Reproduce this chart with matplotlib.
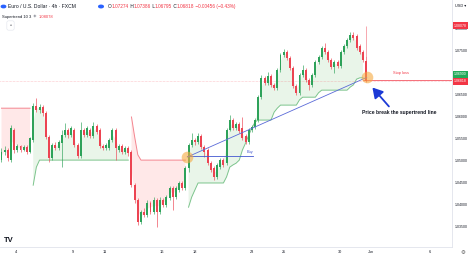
import matplotlib
matplotlib.use("Agg")
import matplotlib.pyplot as plt
import numpy as np
from matplotlib.transforms import blended_transform_factory

plt.rcParams["font.family"] = ["Liberation Sans", "DejaVu Sans"]

# EUR/USD 4h candles (early May .. 31 May)
opens = [
    1.0502, 1.0520, 1.0525, 1.0502, 1.0570, 1.0525, 1.0534, 1.0525, 1.0532, 1.0520,
    1.0548, 1.0625, 1.0616, 1.0623, 1.0609, 1.0555, 1.0507, 1.0536, 1.0530, 1.0541,
    1.0559, 1.0570, 1.0559, 1.0570, 1.0536, 1.0511, 1.0570, 1.0559, 1.0570, 1.0557,
    1.0580, 1.0570, 1.0534, 1.0530, 1.0530, 1.0548, 1.0570, 1.0525, 1.0534, 1.0520,
    1.0530, 1.0520, 1.0445, 1.0411, 1.0361, 1.0384, 1.0377, 1.0405, 1.0384, 1.0411,
    1.0384, 1.0411, 1.0400, 1.0416, 1.0439, 1.0418, 1.0434, 1.0450, 1.0439, 1.0484,
    1.0536, 1.0548, 1.0543, 1.0557, 1.0532, 1.0525, 1.0495, 1.0484, 1.0464, 1.0486,
    1.0502, 1.0495, 1.0570, 1.0593, 1.0575, 1.0584, 1.0575, 1.0557, 1.0543, 1.0570,
    1.0577, 1.0593, 1.0645, 1.0689, 1.0677, 1.0693, 1.0673, 1.0666, 1.0707, 1.0741,
    1.0748, 1.0734, 1.0711, 1.0670, 1.0655, 1.0695, 1.0707, 1.0684, 1.0673, 1.0695,
    1.0725, 1.0736, 1.0757, 1.0748, 1.0730, 1.0714, 1.0725, 1.0716, 1.0748, 1.0761,
    1.0775, 1.0786, 1.0784, 1.0761, 1.0748, 1.07274,
]
highs = [
    1.0530, 1.0534, 1.0530, 1.0582, 1.0575, 1.0539, 1.0536, 1.0536, 1.0536, 1.0555,
    1.0632, 1.0643, 1.0630, 1.0627, 1.0614, 1.0559, 1.0541, 1.0543, 1.0548, 1.0570,
    1.0586, 1.0575, 1.0580, 1.0575, 1.0541, 1.0589, 1.0575, 1.0580, 1.0575, 1.0589,
    1.0584, 1.0575, 1.0539, 1.0541, 1.0552, 1.0575, 1.0575, 1.0539, 1.0539, 1.0534,
    1.0534, 1.0525, 1.0450, 1.0416, 1.0389, 1.0393, 1.0411, 1.0409, 1.0418, 1.0416,
    1.0418, 1.0416, 1.0423, 1.0443, 1.0443, 1.0443, 1.0455, 1.0455, 1.0489, 1.0541,
    1.0564, 1.0552, 1.0564, 1.0561, 1.0536, 1.0530, 1.0500, 1.0489, 1.0495, 1.0507,
    1.0507, 1.0575, 1.0605, 1.0598, 1.0589, 1.0589, 1.0600, 1.0561, 1.0575, 1.0582,
    1.0598, 1.0650, 1.0695, 1.0693, 1.0702, 1.0698, 1.0677, 1.0711, 1.0745, 1.0755,
    1.0752, 1.0739, 1.0716, 1.0675, 1.0700, 1.0718, 1.0711, 1.0689, 1.0700, 1.0730,
    1.0741, 1.0761, 1.0768, 1.0752, 1.0734, 1.0730, 1.0730, 1.0752, 1.0766, 1.0780,
    1.0793, 1.0793, 1.0789, 1.0766, 1.0752, 1.07386,
]
lows = [
    1.0498, 1.0514, 1.0500, 1.0498, 1.0518, 1.0520, 1.0520, 1.0523, 1.0516, 1.0518,
    1.0543, 1.0611, 1.0609, 1.0602, 1.0550, 1.0498, 1.0502, 1.0525, 1.0525, 1.0486,
    1.0555, 1.0552, 1.0555, 1.0532, 1.0507, 1.0507, 1.0555, 1.0555, 1.0552, 1.0552,
    1.0561, 1.0530, 1.0525, 1.0525, 1.0525, 1.0543, 1.0502, 1.0520, 1.0516, 1.0516,
    1.0511, 1.0441, 1.0405, 1.0355, 1.0357, 1.0373, 1.0373, 1.0380, 1.0380, 1.0350,
    1.0380, 1.0395, 1.0395, 1.0411, 1.0389, 1.0414, 1.0430, 1.0434, 1.0434, 1.0475,
    1.0532, 1.0536, 1.0539, 1.0527, 1.0509, 1.0491, 1.0475, 1.0457, 1.0459, 1.0482,
    1.0486, 1.0491, 1.0568, 1.0570, 1.0570, 1.0564, 1.0548, 1.0539, 1.0539, 1.0566,
    1.0573, 1.0589, 1.0641, 1.0673, 1.0673, 1.0668, 1.0661, 1.0661, 1.0702, 1.0736,
    1.0730, 1.0707, 1.0666, 1.0650, 1.0650, 1.0691, 1.0680, 1.0661, 1.0668, 1.0691,
    1.0720, 1.0732, 1.0743, 1.0725, 1.0709, 1.0700, 1.0711, 1.0711, 1.0743, 1.0757,
    1.0770, 1.0775, 1.0752, 1.0743, 1.0725, 1.06795,
]
closes = [
    1.0520, 1.0525, 1.0507, 1.0575, 1.0525, 1.0534, 1.0525, 1.0532, 1.0520, 1.0552,
    1.0625, 1.0616, 1.0623, 1.0609, 1.0555, 1.0507, 1.0536, 1.0530, 1.0543, 1.0559,
    1.0570, 1.0559, 1.0575, 1.0536, 1.0511, 1.0570, 1.0559, 1.0575, 1.0557, 1.0580,
    1.0566, 1.0534, 1.0530, 1.0536, 1.0548, 1.0570, 1.0530, 1.0534, 1.0520, 1.0530,
    1.0518, 1.0445, 1.0411, 1.0361, 1.0384, 1.0377, 1.0405, 1.0384, 1.0411, 1.0384,
    1.0411, 1.0400, 1.0418, 1.0439, 1.0418, 1.0439, 1.0450, 1.0439, 1.0484, 1.0536,
    1.0548, 1.0543, 1.0557, 1.0532, 1.0520, 1.0495, 1.0480, 1.0464, 1.0491, 1.0502,
    1.0491, 1.0570, 1.0593, 1.0575, 1.0584, 1.0568, 1.0552, 1.0543, 1.0570, 1.0577,
    1.0593, 1.0645, 1.0689, 1.0677, 1.0693, 1.0673, 1.0666, 1.0707, 1.0741, 1.0748,
    1.0734, 1.0711, 1.0670, 1.0655, 1.0695, 1.0707, 1.0684, 1.0673, 1.0695, 1.0725,
    1.0736, 1.0757, 1.0748, 1.0730, 1.0714, 1.0725, 1.0716, 1.0748, 1.0761, 1.0775,
    1.0786, 1.0780, 1.0757, 1.0748, 1.0730, 1.06818,
]
# Supertrend (10, 3) line as drawn
supertrend = [
    1.0620, 1.0620, 1.0620, 1.0620, 1.0620, 1.0620, 1.0620, 1.0620, 1.0620, 1.0620,
    1.0445, 1.0486, 1.0502, 1.0502, 1.0502, 1.0502, 1.0502, 1.0502, 1.0502, 1.0502,
    1.0502, 1.0502, 1.0502, 1.0502, 1.0502, 1.0502, 1.0502, 1.0502, 1.0502, 1.0502,
    1.0502, 1.0502, 1.0502, 1.0502, 1.0502, 1.0502, 1.0502, 1.0502, 1.0502, 1.0502,
    1.0502, 1.0600, 1.0555, 1.0514, 1.0502, 1.0502, 1.0502, 1.0502, 1.0502, 1.0502,
    1.0502, 1.0502, 1.0502, 1.0502, 1.0502, 1.0502, 1.0502, 1.0502, 1.0502, 1.0395,
    1.0418, 1.0434, 1.0450, 1.0450, 1.0450, 1.0450, 1.0450, 1.0450, 1.0450, 1.0450,
    1.0450, 1.0464, 1.0486, 1.0491, 1.0495, 1.0502, 1.0525, 1.0541, 1.0559, 1.0575,
    1.0589, 1.0593, 1.0593, 1.0593, 1.0593, 1.0593, 1.0611, 1.0620, 1.0627, 1.0627,
    1.0627, 1.0627, 1.0627, 1.0627, 1.0639, 1.0645, 1.0645, 1.0645, 1.0645, 1.0645,
    1.0655, 1.0661, 1.0661, 1.0661, 1.0661, 1.0661, 1.0661, 1.0661, 1.0661, 1.0661,
    1.0668, 1.0673, 1.0686, 1.0689, 1.0689, 1.08078,
]

date_ticks = [4.6, 22.6, 32.6, 50.6, 61.0, 79.0, 89.1, 106.8, 116.6, 135.2]
date_labels = ["4", "9", "11", "16", "18", "23", "25", "30", "Jun", "6"]
price_ticks = [1.035, 1.040, 1.045, 1.050, 1.055, 1.060, 1.065, 1.070, 1.075, 1.080]

buy_point = (58.6, 1.0509)
break_point = (115.2, 1.0690)
buy_line_end = 79.3
stop_loss = 1.0685
last_close = 1.06818
st_last = 1.08078

UP = "#2ea25a"
DOWN = "#ec4452"
ST_UP = "#7cc48c"
ST_DOWN = "#f4858f"
TEXT = "#131722"
GRID = "#e0e3eb"
W, H = 474, 258

o = np.array(opens)
h = np.array(highs)
l = np.array(lows)
c = np.array(closes)
st = np.array(supertrend)
x = np.arange(len(c))
trend = np.where(c > st, 1, -1)
mid = (o + c) / 2

fig = plt.figure(figsize=(W / 100, H / 100), dpi=100)
ax = fig.add_axes([0, 11 / H, 452 / W, 247 / H])
ax.set_xlim(-0.47, 142.1)
ax.set_ylim(1.03045, 1.08659)

# supertrend fills and lines
up_mask = trend == 1
dn_mask = trend == -1
dn_mask[-1] = False
ax.fill_between(x, st, mid, where=up_mask, color="#4caf50", alpha=0.12, lw=0, zorder=1)
ax.fill_between(x, st, mid, where=dn_mask, color="#ff5252", alpha=0.13, lw=0, zorder=1)
ax.plot(x, np.where(up_mask, st, np.nan), color=ST_UP, lw=0.7, zorder=2)
ax.plot(x, np.where(dn_mask, st, np.nan), color=ST_DOWN, lw=0.7, zorder=2)
ax.vlines(x[-1], h[-1], st_last, color=ST_DOWN, lw=0.5, zorder=2)

# candles
colors = np.where(c >= o, UP, DOWN)
ax.vlines(x, l, h, color=colors, lw=0.45, zorder=3)
body = np.maximum(np.abs(c - o), 0.00008)
ax.bar(x, body, bottom=np.minimum(o, c), width=0.62, color=colors, lw=0, zorder=4)

# price line and stop loss
ax.axhline(last_close, color="#f7525f", lw=0.4, ls=(0, (1, 1.5)), alpha=0.6, zorder=2)
ax.plot([114, 142.1], [stop_loss, stop_loss], color="#f23645", lw=0.5, zorder=5)
ax.text(126, 1.0700, "Stop loss", color="#f23645", fontsize=2.8, ha="center", va="center", zorder=6)

# buy / break annotations
ax.plot([buy_point[0], buy_line_end], [buy_point[1] + 0.0002, buy_point[1] + 0.0002],
        color="#4256d0", lw=0.6, zorder=5)
ax.text(buy_line_end - 1, buy_point[1] + 0.0011, "Buy", color="#4256d0", fontsize=2.8,
        ha="center", va="center", zorder=6)
ax.plot([buy_point[0], break_point[0]], [buy_point[1], break_point[1]],
        color="#5a6ad8", lw=0.6, zorder=5)
ax.scatter([buy_point[0], break_point[0]], [buy_point[1], break_point[1]], s=70,
           color="#f5a940", alpha=0.6, lw=0, zorder=6)
ax.annotate("", xy=(117.0, 1.0667), xytext=(122.2, 1.0624),
            arrowprops=dict(arrowstyle="-|>,head_width=0.35,head_length=0.6",
                            color="#1c3ad6", lw=1.3, shrinkA=0, shrinkB=0), zorder=7)
ax.text(125.5, 1.0611, "Price break the supertrend line", color=TEXT, fontsize=3.6,
        weight="bold", ha="center", va="center", zorder=7)

# axes styling
for side in ("top", "left"):
    ax.spines[side].set_visible(False)
for side in ("right", "bottom"):
    ax.spines[side].set_color(GRID)
    ax.spines[side].set_linewidth(0.6)
ax.set_xticks(date_ticks)
ax.set_xticklabels(date_labels)
ax.yaxis.tick_right()
ax.set_yticks(price_ticks)
ax.set_yticklabels([f"{p:.5f}" for p in price_ticks])
ax.tick_params(axis="x", length=0, pad=2.5, labelsize=2.8, colors=TEXT)
ax.tick_params(axis="y", length=0, pad=2.2, labelsize=2.5, colors=TEXT)

# price badges on the scale
tr = blended_transform_factory(ax.transAxes, ax.transData)
for val, txt, fc in [(st_last, "1.08078", "#f23645"), (1.0697, "1.06900", "#22ab5a"),
                     (last_close - 0.0001, "1.06818", "#f23645")]:
    ax.text(1.004, val, txt, transform=tr, fontsize=2.5, color="white", ha="left", va="center",
            bbox=dict(boxstyle="square,pad=0.35", fc=fc, ec="none"), zorder=10, clip_on=False)


def runs(x_px, y_px, parts, size, weight="normal"):
    renderer = fig.canvas.get_renderer()
    xp = x_px
    for s, col in parts:
        t = fig.text(xp / W, 1 - y_px / H, s, fontsize=size, color=col, ha="left", va="center",
                     weight=weight)
        xp += t.get_window_extent(renderer=renderer).width


# header
fig.patches.append(plt.Circle((3.5 / W, 1 - 6.5 / H), 2.2 / W, transform=fig.transFigure,
                              color="#2962ff"))
runs(8, 6.5, [("Euro / U.S. Dollar · 4h · FXCM", TEXT)], 3.6)
fig.patches.append(plt.Circle((101 / W, 1 - 6.5 / H), 2.3 / W, transform=fig.transFigure,
                              color="#2962ff"))
red = "#f23645"
runs(108, 6.5, [("O", TEXT), ("1.07274", red), (" H", TEXT), ("1.07386", red), (" L", TEXT),
                ("1.06795", red), (" C", TEXT), ("1.06818", red), (" −0.00456 (−0.43%)", red)], 3.4)
runs(2, 17, [("Supertrend 10 3", TEXT), ("  ◈  ", "#787b86"), ("1.08078", red)], 3.0)
fig.text(10.5 / W, 1 - 25.5 / H, "^", fontsize=3.2, color=TEXT, ha="center", va="center",
         bbox=dict(boxstyle="round,pad=0.6,rounding_size=0.4", fc="white", ec=GRID, lw=0.4))
fig.text(455 / W, 1 - 6 / H, "USD ▾", fontsize=2.8, color=TEXT, ha="left", va="center")
fig.text(4 / W, 1 - 240 / H, "TV", fontsize=5.5, color=TEXT, weight="bold", ha="left",
         va="center")
fig.text(463 / W, 1 - 252 / H, "⚙", fontsize=4, color="#555555", ha="center", va="center")

fig.savefig("out.png", dpi=100)
